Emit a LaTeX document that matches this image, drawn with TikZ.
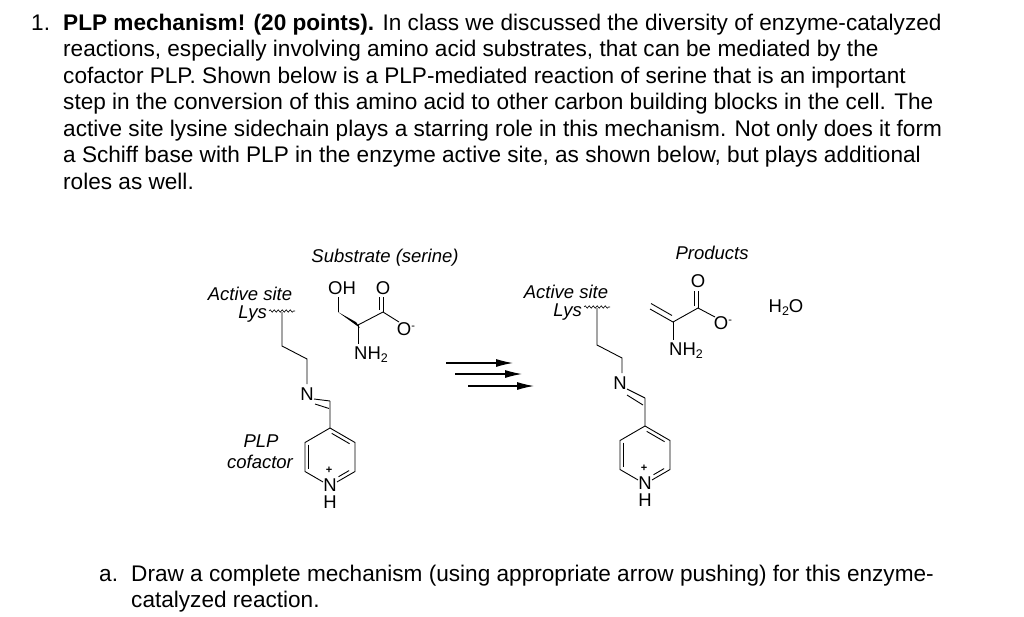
\documentclass[tikz,border=0pt]{standalone}
\usepackage{fontspec}
\setmainfont{Liberation Sans}
\usetikzlibrary{decorations.pathmorphing,arrows.meta,calc}
\begin{document}
\begin{tikzpicture}[x=1pt,y=-1pt,
  body/.style={anchor=base west,inner sep=0pt,font=\fontsize{22.6}{26}\selectfont},
  lab/.style={inner sep=0pt,font=\fontsize{18.5}{20}\selectfont\itshape},
  atom/.style={inner sep=0pt,font=\fontsize{18.5}{20}\selectfont},
  bond/.style={line width=0.9pt},
  wavy/.style={line width=0.6pt,decorate,decoration={snake,amplitude=1.2pt,segment length=4pt}},
  rxn/.style={line width=1.1pt,-{Latex[length=17pt,width=8pt]}}]
\useasboundingbox (0,0) rectangle (1024,616);
\fill[white] (0,0) rectangle (1024,616);
% question text
\node[body] (n1) at (31,30) {1.};
\node[body] (l1) at (63,30) {\textbf{PLP mechanism! (20 points).} In class we discussed the diversity of enzyme-catalyzed};
\node[body] (l2) at (63,56.5) {reactions, especially involving amino acid substrates, that can be mediated by the};
\node[body] (l3) at (63,83) {cofactor PLP. Shown below is a PLP-mediated reaction of serine that is an important};
\node[body] (l4) at (63,109.5) {step in the conversion of this amino acid to other carbon building blocks in the cell. The};
\node[body] (l5) at (63,136) {active site lysine sidechain plays a starring role in this mechanism. Not only does it form};
\node[body] (l6) at (63,162.5) {a Schiff base with PLP in the enzyme active site, as shown below, but plays additional};
\node[body] (l7) at (63,189) {roles as well.};
\node[body] (a) at (99,581) {a.};
\node[body] (a1) at (131,581) {Draw a complete mechanism (using appropriate arrow pushing) for this enzyme-};
\node[body] (a2) at (131,607.5) {catalyzed reaction.};
% ---- left molecule
\node[lab] (subst) at (385,258) {Substrate (serine)};
\node[lab] (as1) at (250,294) {Active site};
\node[lab,anchor=east] (lys1) at (267,314) {Lys};
\coordinate (w1a) at (269,311); \coordinate (w1b) at (295,311);
\draw[wavy] (w1a) -- (w1b);
\coordinate (c1) at (282,312);
\coordinate (c2) at (282,346);
\coordinate (c3) at (307,359);
\coordinate (c4) at (307,384);
\node[atom] (N1) at (307,394) {N};
\coordinate (c5) at (330,401);
\draw[bond] (c1) -- (c2) -- (c3) -- (c4);
\draw[bond] (314,399) -- (c5);
\draw[bond] (315,404) -- (329,408.5);
\coordinate (h1c) at (330,457);
\coordinate (r1t) at (330,428);
\coordinate (r1ur) at (355,442.5);
\coordinate (r1lr) at (355,471.5);
\coordinate (r1b) at (330,486);
\coordinate (r1ll) at (305,471.5);
\coordinate (r1ul) at (305,442.5);
\node[atom] (RN1) at (330,485) {N};
\node[atom,font=\fontsize{11}{11}\selectfont\bfseries] (p1) at (329,470) {+};
\node[atom] (H1) at (330,502) {H};
\draw[bond] (c5) -- (r1t) -- (r1ur) -- (r1lr) -- ($(r1lr)!0.72!(r1b)$);
\draw[bond] ($(r1ll)!0.72!(r1b)$) -- (r1ll) -- (r1ul) -- (r1t);
\draw[bond] ($(r1ul)!0.15!(h1c)$) -- ($(r1ll)!0.15!(h1c)$);
\draw[bond] ($($(r1t)!0.15!(h1c)$)!0.08!($(r1ur)!0.15!(h1c)$)$) -- ($($(r1t)!0.15!(h1c)$)!0.92!($(r1ur)!0.15!(h1c)$)$);
\draw[bond] ($($(r1lr)!0.15!(h1c)$)!0.1!($(r1b)!0.15!(h1c)$)$) -- ($($(r1lr)!0.15!(h1c)$)!0.6!($(r1b)!0.15!(h1c)$)$);
\node[lab] (pl1) at (261,441) {PLP};
\node[lab] (cf1) at (260,462) {cofactor};
% serine
\node[atom] (OH) at (342,288) {OH};
\node[atom] (Oc) at (383,288) {O};
\node[atom] (Om) at (406,329) {O\raisebox{6pt}{\fontsize{11}{11}\selectfont -}};
\node[atom] (NH) at (371,355) {NH\raisebox{-3pt}{\fontsize{12.5}{12}\selectfont 2}};
\coordinate (sb) at (338,312);
\coordinate (sa) at (358,325);
\coordinate (sc) at (383,312);
\draw[bond] (338,297) -- (sb);
\fill (sb) -- ([xshift=-1.8pt,yshift=2.8pt]sa) -- ([xshift=1.8pt,yshift=-2.8pt]sa) -- cycle;
\draw[bond] (sa) -- (sc) -- (399,322);
\draw[bond] (sc) -- (383,297);
\draw[bond] (379.5,310) -- (379.5,297);
\draw[bond] (sa) -- (358,344);
% arrows
\coordinate (ar1a) at (446,363); \coordinate (ar1b) at (513,363);
\coordinate (ar2a) at (455,374); \coordinate (ar2b) at (522,374);
\coordinate (ar3a) at (468,386); \coordinate (ar3b) at (534,386);
\draw[rxn] (ar1a) -- (ar1b);
\draw[rxn] (ar2a) -- (ar2b);
\draw[rxn] (ar3a) -- (ar3b);
% ---- right molecule
\node[lab] (as2) at (566,292) {Active site};
\node[lab,anchor=east] (lys2) at (582,312) {Lys};
\coordinate (w2a) at (584,307); \coordinate (w2b) at (610,307);
\draw[wavy] (w2a) -- (w2b);
\coordinate (d1) at (597,308);
\coordinate (d2) at (597,345);
\coordinate (d3) at (622,358);
\coordinate (d4) at (622,373);
\node[atom] (N2) at (620,383) {N};
\coordinate (d5) at (645,398);
\draw[bond] (d1) -- (d2) -- (d3) -- (d4);
\draw[bond] (627,389) -- (d5);
\draw[bond] (627,395) -- (643,405);
\coordinate (h2c) at (645,455);
\coordinate (r2t) at (645,426);
\coordinate (r2ur) at (670,440.5);
\coordinate (r2lr) at (670,469.5);
\coordinate (r2b) at (645,484);
\coordinate (r2ll) at (620,469.5);
\coordinate (r2ul) at (620,440.5);
\node[atom] (RN2) at (645,483) {N};
\node[atom,font=\fontsize{11}{11}\selectfont\bfseries] (p2) at (644,468) {+};
\node[atom] (H2) at (645,500) {H};
\draw[bond] (d5) -- (r2t) -- (r2ur) -- (r2lr) -- ($(r2lr)!0.72!(r2b)$);
\draw[bond] ($(r2ll)!0.72!(r2b)$) -- (r2ll) -- (r2ul) -- (r2t);
\draw[bond] ($(r2ul)!0.15!(h2c)$) -- ($(r2ll)!0.15!(h2c)$);
\draw[bond] ($($(r2t)!0.15!(h2c)$)!0.08!($(r2ur)!0.15!(h2c)$)$) -- ($($(r2t)!0.15!(h2c)$)!0.92!($(r2ur)!0.15!(h2c)$)$);
\draw[bond] ($($(r2lr)!0.15!(h2c)$)!0.1!($(r2b)!0.15!(h2c)$)$) -- ($($(r2lr)!0.15!(h2c)$)!0.6!($(r2b)!0.15!(h2c)$)$);
% product
\node[lab] (prod) at (712,253) {Products};
\node[atom] (PO) at (698,281) {O};
\node[atom] (POm) at (723,323) {O\raisebox{6pt}{\fontsize{11}{11}\selectfont -}};
\node[atom] (PNH) at (686,351) {NH\raisebox{-3pt}{\fontsize{12.5}{12}\selectfont 2}};
\node[atom] (W) at (786,308) {H\raisebox{-3pt}{\fontsize{12.5}{12}\selectfont 2}O};
\coordinate (pc) at (698,308);
\coordinate (pa) at (673,322);
\coordinate (pv) at (650,309);
\draw[bond] (pv) -- (pa) -- (pc) -- (715,317);
\draw[bond] (651,303.5) -- (672,315.5);
\draw[bond] (pc) -- (698,291);
\draw[bond] (694.5,306) -- (694.5,291);
\draw[bond] (pa) -- (673,340);
\end{tikzpicture}
\end{document}
